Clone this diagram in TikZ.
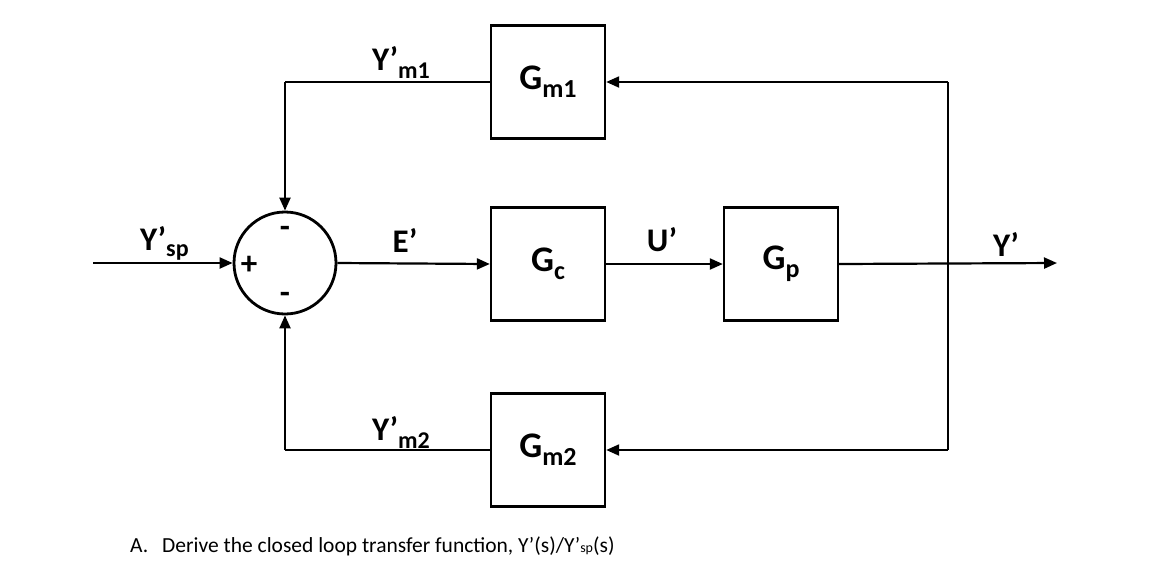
\documentclass[tikz,border=0pt]{standalone}
\usepackage{fontspec}
\setmainfont{Carlito}
\usetikzlibrary{arrows.meta}
\newcommand{\sbs}[1]{\raisebox{-8pt}{\fontsize{26}{28}\selectfont #1}}
\begin{document}
\begin{tikzpicture}[x=1pt,y=-1pt,
  blk/.style={draw,line width=2.4pt,minimum width=114pt,minimum height=113pt,inner sep=0pt,font=\bfseries\fontsize{36}{38}\selectfont},
  ln/.style={line width=2.2pt},
  arr/.style={ln,-{Triangle[length=13pt,width=11pt]}},
  lab/.style={font=\bfseries\fontsize{33}{35}\selectfont,inner sep=0pt}]
\useasboundingbox (0,0) rectangle (1158,563);
\node[draw,circle,line width=2.8pt,minimum size=102pt,inner sep=0pt] (s) at (285,263) {};
\node[blk] (gm1) at (548,82) {G\sbs{m1}};
\node[blk] (gc) at (548,264) {G\sbs{c}};
\node[blk] (gp) at (781,264) {G\sbs{p}};
\node[blk] (gm2) at (548,450) {G\sbs{m2}};
\coordinate (in) at (93,263);
\coordinate (out) at (1057,263);
\coordinate (br) at (948,263);
\coordinate (tr) at (948,82);
\coordinate (bbr) at (948,450);
\coordinate (tl) at (285,82);
\coordinate (bl) at (285,450);
\draw[arr] (in) -- (s.west);
\draw[arr] (s.east) -- (gc.west);
\draw[arr] (gc.east) -- (gp.west);
\draw[arr] (gp.east) -- (out);
\draw[ln] (br) -- (tr);
\draw[arr] (tr) -- (gm1.east);
\draw[ln] (br) -- (bbr);
\draw[arr] (bbr) -- (gm2.east);
\draw[ln] (gm1.west) -- (tl);
\draw[arr] (tl) -- (s.north);
\draw[ln] (gm2.west) -- (bl);
\draw[arr] (bl) -- (s.south);
\node[lab] (l1) at (249,265) {+};
\node[lab] (l2) at (285,232) {-};
\node[lab] (l3) at (285,298) {-};
\node[lab,anchor=base west] (ysp) at (140,250) {Y’\raisebox{-6pt}{\fontsize{24}{26}\selectfont sp}};
\node[lab,anchor=base west] (ym1) at (372,70) {Y’\raisebox{-8pt}{\fontsize{24}{26}\selectfont m1}};
\node[lab,anchor=base west] (ym2) at (372,440) {Y’\raisebox{-8pt}{\fontsize{24}{26}\selectfont m2}};
\node[lab] (e) at (405,240) {E’};
\node[lab] (u) at (662,240) {U’};
\node[lab] (y) at (1006,244) {Y’};
\node[anchor=base west,inner sep=0pt,font=\fontsize{21.5}{23}\selectfont] (cap) at (130,552) {A.\hspace{14pt}Derive the closed loop transfer function, Y’(s)/Y’{\fontsize{14}{15}\selectfont sp}(s)};
\end{tikzpicture}
\end{document}
